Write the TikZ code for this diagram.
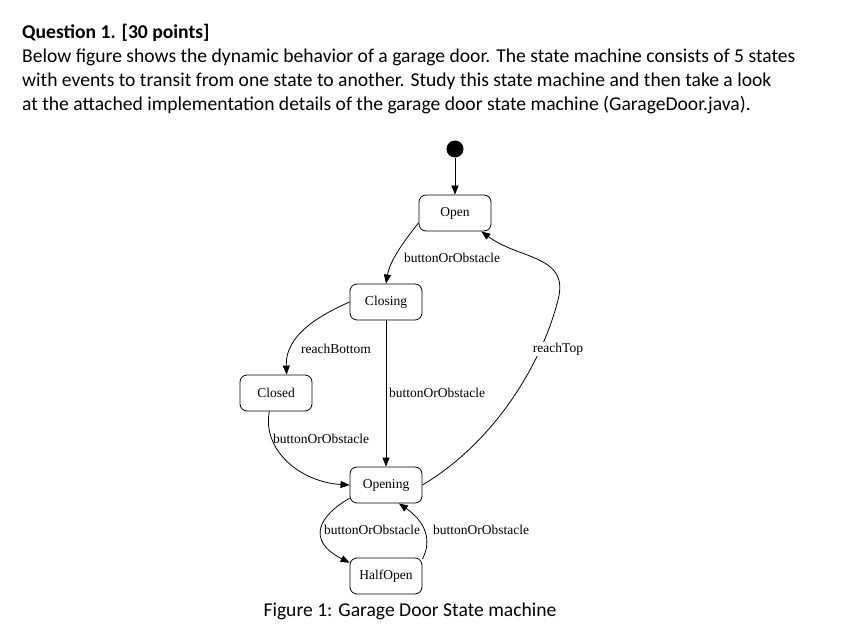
\documentclass[tikz,border=0pt]{standalone}
\usepackage{fontspec}
\setmainfont{Liberation Serif}
\newfontfamily\hdr{Carlito}
\usetikzlibrary{arrows.meta}
\begin{document}
\begin{tikzpicture}[x=1pt,y=-1pt,
  st/.style={draw,rounded corners=7pt,minimum width=72pt,minimum height=36pt,font=\fontsize{13.5}{15}\selectfont,line width=0.8pt},
  tr/.style={-{Triangle[length=9pt,width=7pt]},line width=0.8pt},
  lb/.style={font=\fontsize{13.5}{15}\selectfont,inner sep=1pt},
  hd/.style={font=\hdr\fontsize{19.6}{22}\selectfont,anchor=west,inner sep=0pt}]
\useasboundingbox (0,0) rectangle (844,636);
\node[hd,font=\hdr\bfseries\fontsize{19.6}{22}\selectfont] at (22,33) {Question 1. [30 points]};
\node[hd] at (22,57) {Below figure shows the dynamic behavior of a garage door. The state machine consists of 5 states};
\node[hd] at (22,81) {with events to transit from one state to another. Study this state machine and then take a look};
\node[hd] at (22,105) {at the attached implementation details of the garage door state machine (GarageDoor.java).};
\node[hd,anchor=center] at (410,611) {Figure 1: Garage Door State machine};

\node[circle,fill,inner sep=0pt,minimum size=17pt] (init) at (455,149) {};
\node[st] (open) at (455,213) {Open};
\node[st] (closing) at (386,302) {Closing};
\node[st] (closed) at (276,393) {Closed};
\node[st] (opening) at (386,485) {Opening};
\node[st] (half) at (386,576) {HalfOpen};

\draw[tr] (init) -- (open);
\draw[tr] (open.195) .. controls (405,240) and (390,260) .. (closing.north);
\node[lb] at (452,258) {buttonOrObstacle};
\draw[tr] (closing.west) .. controls (320,315) and (285,335) .. (closed.60);
\node[lb] at (336,349) {reachBottom};
\draw[tr] (closing) -- (opening);
\node[lb] at (437,393) {buttonOrObstacle};
\draw[tr] (closed.-110) .. controls (262,450) and (300,482) .. (opening.west);
\node[lb] at (321,439) {buttonOrObstacle};
\draw[tr] (opening.east) .. controls (490,445) and (540,370) .. (558,300)
  .. controls (570,255) and (520,260) .. (open.-35);
\node[lb,fill=white] at (558,349) {reachTop};
\draw[tr] (opening.200) .. controls (320,515) and (305,540) .. (half.160);
\node[lb] at (372,530) {buttonOrObstacle};
\draw[tr] (half.25) .. controls (430,545) and (430,525) .. (opening.-55);
\node[lb] at (481,530) {buttonOrObstacle};
\end{tikzpicture}
\end{document}
